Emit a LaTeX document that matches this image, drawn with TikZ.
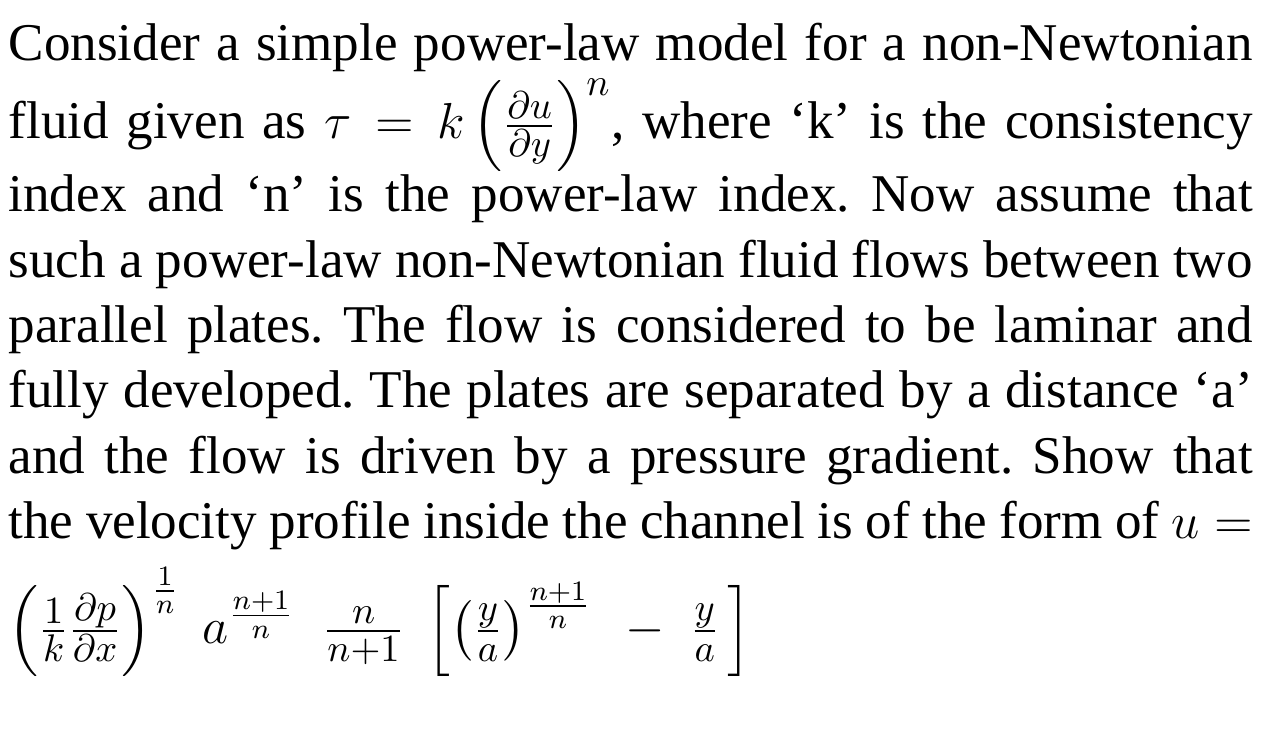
\documentclass[tikz,border=0pt]{standalone}
\usepackage{amsmath}
\usepackage{fontspec}
\setmainfont{Liberation Serif}
\begin{document}
\begin{tikzpicture}
\useasboundingbox (0,0) rectangle (12.66,-7.38);
\node[anchor=north west, inner sep=0pt, text width=12.44cm, align=justify,
  font=\fontsize{15.1}{18.6}\selectfont\frenchspacing] (para) at (0.08,-0.22) {%
Consider a simple power-law model for a non-Newtonian\linebreak
\rule[-0.55em]{0pt}{1.75em}fluid given as $\tau = k\left(\frac{\partial u}{\partial y}\right)^{n}$, where `k' is the consistency\linebreak
index and `n' is the power-law index. Now assume that\linebreak
such a power-law non-Newtonian fluid flows between two\linebreak
parallel plates. The flow is considered to be laminar and\linebreak
fully developed. The plates are separated by a distance `a'\linebreak
and the flow is driven by a pressure gradient. Show that\linebreak
the velocity profile inside the channel is of the form of $u=$\linebreak
\rule{0pt}{1.7em}$\left(\frac{1}{k}\frac{\partial p}{\partial x}\right)^{\frac{1}{n}}\; a^{\frac{n+1}{n}}\;\;\frac{n}{n+1}\;\left[\left(\frac{y}{a}\right)^{\frac{n+1}{n}}\;\,-\;\frac{y}{a}\,\right]$\hfill\null};
\end{tikzpicture}
\end{document}
